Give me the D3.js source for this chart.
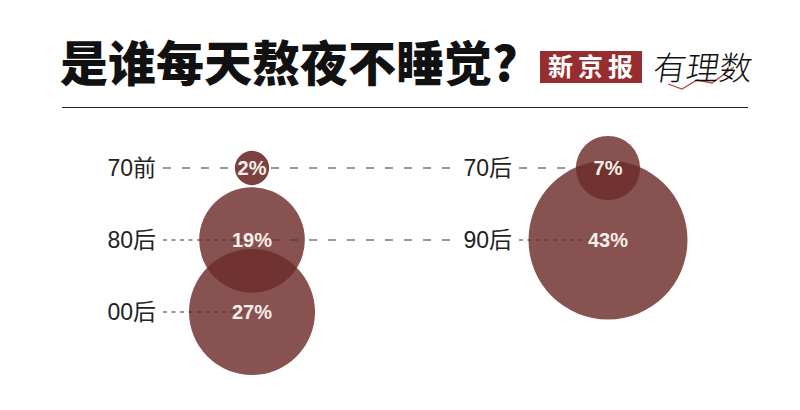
<!DOCTYPE html>
<html>
<head>
<meta charset="utf-8">
<script src="https://cdn.jsdelivr.net/npm/d3@7"></script>
<style>
    html, body { margin: 0; padding: 0; background: #fff; }
    #chart { width: 800px; height: 410px; }
</style>
</head>
<body>
<div id="chart"></div>
<script>
(function() {
    // data
    var groups = ["70前", "80后", "00后", "70后", "90后"];
    var shares = [2, 19, 27, 7, 43];
    var columnOf = [0, 0, 0, 1, 1];
    var rowOf = [0, 1, 2, 0, 1];
    var title = "是谁每天熬夜不睡觉?";
    var brand = "新京报";
    var brandTag = "有理数";

    var width = 800,
        height = 410;

    var svg = d3.select("#chart")
        .append("svg")
        .attr("width", width)
        .attr("height", height);

    var labelFont = "Helvetica, Arial, 'Liberation Sans', 'Noto Sans CJK SC', sans-serif";

    // header
    svg.append("text")
        .attr("x", 60)
        .attr("y", 81)
        .attr("font-family", "'Noto Sans CJK SC', sans-serif")
        .attr("font-weight", 900)
        .attr("font-size", "48px")
        .attr("fill", "#111")
        .text(title);

    svg.append("rect")
        .attr("x", 540)
        .attr("y", 51)
        .attr("width", 102)
        .attr("height", 32)
        .attr("fill", "#982d30");

    svg.append("text")
        .attr("x", 593)
        .attr("y", 76)
        .attr("text-anchor", "middle")
        .attr("font-family", "'Noto Sans CJK SC', sans-serif")
        .attr("font-weight", 700)
        .attr("font-size", "25px")
        .attr("letter-spacing", "5px")
        .attr("fill", "#fff")
        .text(brand);

    // little red trend line in the logo
    svg.append("polyline")
        .attr("points", "668,84 682,89 697,80 712,83 734,67")
        .attr("fill", "none")
        .attr("stroke", "#b0474a")
        .attr("stroke-width", 1.3);

    svg.append("text")
        .attr("x", 652)
        .attr("y", 80)
        .attr("transform", "skewX(-8) translate(11,0)")
        .attr("font-family", "'Noto Sans CJK SC', sans-serif")
        .attr("font-weight", 300)
        .attr("font-size", "33px")
        .attr("fill", "#111")
        .text(brandTag);

    svg.append("line")
        .attr("x1", 62)
        .attr("x2", 748)
        .attr("y1", 107.5)
        .attr("y2", 107.5)
        .attr("stroke", "#222")
        .attr("stroke-width", 1.2);

    // scales
    var x = d3.scalePoint().domain([0, 1]).range([252, 608]);
    var y = d3.scalePoint().domain([0, 1, 2]).range([168, 312]);
    var r = d3.scaleSqrt().domain([0, d3.max(shares)]).range([0, 79.5]);

    var data = groups.map(function(g, i) {
        return { group: g, share: shares[i], col: columnOf[i], row: rowOf[i] };
    });

    var lineLayer = svg.append("g");
    var circleLayer = svg.append("g");

    // row labels
    var labels = svg.append("g").selectAll("text")
        .data(data)
        .enter().append("text")
        .attr("x", function(d) { return x(d.col) - 96; })
        .attr("y", function(d) { return y(d.row); })
        .attr("dy", "0.36em")
        .attr("text-anchor", "end")
        .attr("font-family", labelFont)
        .attr("font-size", "23px")
        .attr("fill", "#222")
        .text(function(d) { return d.group; });

    labels.each(function(d) {
        d.labelEnd = x(d.col) - 96;
        d.labelStart = d.labelEnd - this.getComputedTextLength();
    });

    // dashed leaders: label -> own circle, then circle -> next label in the row
    var segments = [];
    data.forEach(function(d) {
        var cx = x(d.col);
        var x1 = d.labelEnd + 7;
        var visible = cx - r(d.share) - x1;
        segments.push({ x1: x1, x2: cx, y: y(d.row), fine: visible < 45 });
        var next = data.find(function(e) { return e.row === d.row && e.col === d.col + 1; });
        if (next) {
            segments.push({ x1: cx, x2: next.labelStart - 7, y: y(d.row), fine: false });
        }
    });

    lineLayer.selectAll("line")
        .data(segments)
        .enter().append("line")
        .attr("x1", function(d) { return d.x1; })
        .attr("x2", function(d) { return d.x2; })
        .attr("y1", function(d) { return d.y; })
        .attr("y2", function(d) { return d.y; })
        .attr("stroke", "#777")
        .attr("stroke-width", 1.5)
        .attr("stroke-dasharray", function(d) { return d.fine ? "4,4.5" : "8,11"; });

    // bubbles
    circleLayer.selectAll("circle")
        .data(data)
        .enter().append("circle")
        .attr("cx", function(d) { return x(d.col); })
        .attr("cy", function(d) { return y(d.row); })
        .attr("r", function(d) { return r(d.share); })
        .attr("fill", "#6c2c2a")
        .attr("fill-opacity", function(d) { return r(d.share) < 20 ? 0.9 : 0.82; });

    svg.append("g").selectAll("text")
        .data(data)
        .enter().append("text")
        .attr("x", function(d) { return x(d.col); })
        .attr("y", function(d) { return y(d.row); })
        .attr("dy", "0.36em")
        .attr("text-anchor", "middle")
        .attr("font-family", "Arial, 'Liberation Sans', sans-serif")
        .attr("font-weight", "bold")
        .attr("font-size", "20px")
        .attr("fill", "#f7eeea")
        .text(function(d) { return d.share + "%"; });
})();
</script>
</body>
</html>
